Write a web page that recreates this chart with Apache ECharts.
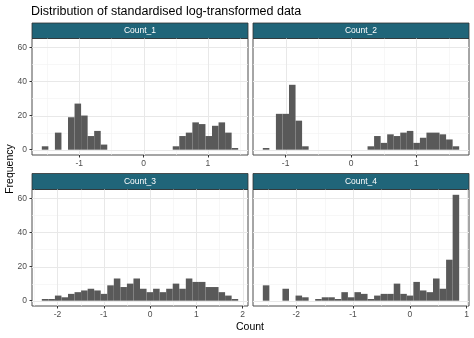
<!DOCTYPE html>
<html><head><meta charset="utf-8">
<script src="https://cdn.jsdelivr.net/npm/echarts@6/dist/echarts.min.js"></script>
<style>html,body{margin:0;padding:0;background:#fff}#c{width:474px;height:338px}</style>
</head><body><div id="c"></div>
<script>
// ---- data ----
const panelNames = ['Count_1', 'Count_2', 'Count_3', 'Count_4'];
// histogram counts (30 bins each)
const counts1 = [2,0,10,0,19,27,20,8,11,3,0,0,0,0,0,0,0,0,0,0,2,8,10,16,15,8,14,16,10,1];
const counts2 = [1,0,21,21,38,17,2,0,0,0,0,0,0,0,0,0,2,8,4,9,8,10,11,4,7,10,10,9,6,2];
const counts3 = [1,1,3,2,4,5,6,7,6,4,9,13,8,10,13,7,5,7,5,7,10,7,13,11,11,8,8,5,3,1];
const counts4 = [9,0,0,7,0,3,2,0,1,2,2,1,5,2,5,4,1,3,4,4,10,4,3,11,6,5,13,7,24,62];
// outer edges of the binned range per panel
const binRange1 = [-1.583, 1.470];
const binRange2 = [-1.349, 1.654];
const binRange3 = [-2.339, 1.906];
const binRange4 = [-2.589, 0.870];
// tick labels
const xTicks1 = [-1, 0, 1];
const xTicks2 = [-1, 0, 1];
const xTicks3 = [-2, -1, 0, 1, 2];
const xTicks4 = [-2, -1, 0, 1];
const yTicks = [0, 20, 40, 60];
const yMinorTicks = [10, 30, 50];
const yMaxCount = 62;

// ---- layout ----
const FONT = 'Liberation Sans, Arial, Helvetica, sans-serif';
const panels = [
  {counts: counts1, range: binRange1, ticks: xTicks1, left: 32, top: 38.5, stripTop: 23},
  {counts: counts2, range: binRange2, ticks: xTicks2, left: 253, top: 38.5, stripTop: 23},
  {counts: counts3, range: binRange3, ticks: xTicks3, left: 32, top: 189.5, stripTop: 173.5},
  {counts: counts4, range: binRange4, ticks: xTicks4, left: 253, top: 189.5, stripTop: 173.5}
];
const PW = 216, PH = 116.5;
const yLo = -0.05 * yMaxCount, yHi = yMaxCount * 1.05;

function binsOf(counts, range) {
  const w = (range[1] - range[0]) / counts.length;
  return counts.map((c, i) => [range[0] + i * w, range[0] + (i + 1) * w, c]);
}
function minorOf(ticks, lo, hi) {
  const step = ticks[1] - ticks[0];
  const out = [];
  for (let v = ticks[0] - step / 2; v <= ticks[ticks.length - 1] + step; v += step) {
    if (v >= lo && v <= hi) out.push(v);
  }
  return out;
}
function lineItem(color, width, vertical) {
  return function (params, api) {
    const cs = params.coordSys;
    const p = api.coord([api.value(0), api.value(1)]);
    if (vertical) {
      const x = Math.round(p[0]) + 0.5;
      return {type: 'line', shape: {x1: x, y1: cs.y, x2: x, y2: cs.y + cs.height},
        style: {stroke: color, lineWidth: width}};
    }
    const y = Math.round(p[1]) + 0.5;
    return {type: 'line', shape: {x1: cs.x, y1: y, x2: cs.x + cs.width, y2: y},
      style: {stroke: color, lineWidth: width}};
  };
}
function barItem(params, api) {
  const c = api.value(2);
  if (!c) return null;
  const p0 = api.coord([api.value(0), c]);
  const p1 = api.coord([api.value(1), 0]);
  return {type: 'rect', shape: {x: p0[0], y: p0[1], width: p1[0] - p0[0], height: p1[1] - p0[1]},
    style: {fill: '#595959'}};
}

const grids = [], xAxes = [], yAxes = [], series = [], graphics = [];
panels.forEach((pn, i) => {
  const span = pn.range[1] - pn.range[0];
  const lo = pn.range[0] - 0.05 * span, hi = pn.range[1] + 0.05 * span;
  grids.push({left: pn.left, top: pn.top, width: PW, height: PH, show: true,
    borderColor: '#4d4d4d', borderWidth: 1, backgroundColor: '#fff'});
  xAxes.push({type: 'value', gridIndex: i, min: lo, max: hi, position: 'bottom',
    axisLine: {show: false, onZero: false}, splitLine: {show: false},
    axisTick: {show: true, customValues: pn.ticks, length: 2.5, lineStyle: {color: '#333', width: 1}},
    axisLabel: {customValues: pn.ticks, fontSize: 8.5, color: '#4d4d4d', fontFamily: FONT, margin: 4}});
  const showY = (i % 2 === 0);
  yAxes.push({type: 'value', gridIndex: i, min: yLo, max: yHi, position: 'left',
    axisLine: {show: false, onZero: false}, splitLine: {show: false},
    axisTick: {show: showY, customValues: yTicks, length: 2.5, lineStyle: {color: '#333', width: 1}},
    axisLabel: {show: showY, customValues: yTicks, fontSize: 8.5, color: '#4d4d4d', fontFamily: FONT, margin: 5}});
  const xm = minorOf(pn.ticks, lo, hi);
  series.push({type: 'custom', xAxisIndex: i, yAxisIndex: i, z: 1, silent: true,
    renderItem: lineItem('#f2f2f2', 0.6, true), data: xm.map(v => [v, 0])});
  series.push({type: 'custom', xAxisIndex: i, yAxisIndex: i, z: 1, silent: true,
    renderItem: lineItem('#f2f2f2', 0.6, false), data: yMinorTicks.map(v => [lo, v])});
  series.push({type: 'custom', xAxisIndex: i, yAxisIndex: i, z: 1, silent: true,
    renderItem: lineItem('#e8e8e8', 1, true), data: pn.ticks.map(v => [v, 0])});
  series.push({type: 'custom', xAxisIndex: i, yAxisIndex: i, z: 1, silent: true,
    renderItem: lineItem('#e8e8e8', 1, false), data: yTicks.map(v => [lo, v])});
  series.push({type: 'custom', xAxisIndex: i, yAxisIndex: i, z: 2, silent: true,
    renderItem: barItem, data: binsOf(pn.counts, pn.range)});
  graphics.push({type: 'rect', shape: {x: pn.left, y: pn.stripTop, width: PW, height: pn.top - pn.stripTop},
    style: {fill: '#206579', stroke: '#333', lineWidth: 0.8},
    textContent: {style: {text: panelNames[i], fill: '#ffffff', fontSize: 8.5, fontFamily: FONT}},
    textConfig: {position: 'inside'}});
});
graphics.push({type: 'text', x: 250, y: 327,
  style: {text: 'Count', fontSize: 10.5, fill: '#000', fontFamily: FONT, align: 'center', verticalAlign: 'middle'}});
graphics.push({type: 'text', rotation: Math.PI / 2, x: 10, y: 169,
  style: {text: 'Frequency', fontSize: 10.5, fill: '#000', fontFamily: FONT, align: 'center', verticalAlign: 'middle'}});

const chart = echarts.init(document.getElementById('c'), null, {renderer: 'canvas'});
chart.setOption({
  animation: false,
  title: {text: 'Distribution of standardised log-transformed data', left: 31, top: 5, padding: 0,
    textStyle: {fontSize: 12.5, fontWeight: 'normal', color: '#000', fontFamily: FONT}},
  grid: grids, xAxis: xAxes, yAxis: yAxes, series: series, graphic: graphics
});
</script></body></html>
